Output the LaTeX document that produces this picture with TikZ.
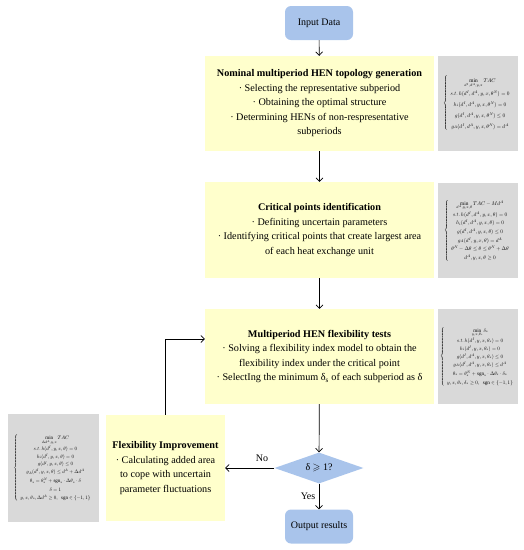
\documentclass[tikz,border=0pt]{standalone}
\usepackage{fontspec}
\usepackage{amssymb}
\usepackage{graphicx}
\setmainfont{Liberation Serif}
\usetikzlibrary{shapes.geometric,arrows.meta}
\definecolor{procyellow}{HTML}{FFFFCC}
\definecolor{termblue}{HTML}{A9C4EB}
\definecolor{modelgrey}{HTML}{D9D9D9}

\begin{document}
\begin{tikzpicture}[x=1pt,y=1pt]
      % Define styles for nodes
      \tikzstyle{terminal} = [rectangle, rounded corners=6pt, fill=termblue,
      minimum width=68pt, minimum height=34pt, font=\fontsize{10}{12}\selectfont]
      \tikzstyle{process} = [rectangle, fill=procyellow, minimum width=229pt,
      minimum height=95pt, align=center, font=\fontsize{10.2}{14.5}\selectfont]
      \tikzstyle{model} = [rectangle, fill=modelgrey, minimum width=80pt,
      minimum height=95pt, inner sep=0pt, font=\fontsize{10}{12}\selectfont]
      \tikzstyle{decision} = [diamond, aspect=2.9, fill=termblue, inner sep=0pt,
      minimum width=89pt, minimum height=31pt, font=\fontsize{10}{12}\selectfont]
      \tikzstyle{link} = [-{Straight Barb[length=3.5pt,width=7pt]}, line width=0.7pt]

      \useasboundingbox (0,0) rectangle (524,-550);

      % Start and end
      \node[terminal] (input) at (319,-23) {Input Data};
      \node[terminal] (output) at (319,-526.5) {Output results};

      % Steps of the procedure
      \node[process] (nominal) at (319.5,-103.5) {\textbf{Nominal multiperiod HEN topology generation}\\
        · Selecting the representative subperiod\\
        · Obtaining the optimal structure\\
        · Determining HENs of non-respresentative\\
        subperiods};
      \node[process, minimum height=96pt] (critical) at (319.5,-230) {\textbf{Critical points identification}\\
        · Definiting uncertain parameters\\
        · Identifying critical points that create largest area\\
        of each heat exchange unit};
      \node[process] (tests) at (319.5,-356.5) {\textbf{Multiperiod HEN flexibility tests}\\
        · Solving a flexibility index model to obtain the\\
        flexibility index under the critical point\\
        · SelectIng the minimum δ\textsubscript{s} of each subperiod as δ};
      \node[process, minimum width=119pt, minimum height=106pt] (improve) at (165.5,-468)
        {\textbf{Flexibility Improvement}\\
        · Calculating added area\\
        to cope with uncertain\\
        parameter fluctuations};
      \node[decision] (check) at (319,-468) {δ $\geqslant$ 1?};

      % Models beside the steps
      \node[model] (nominalmodel) at (478,-103) {\resizebox{70pt}{!}{%
        \renewcommand{\arraystretch}{1.7}%
        $\left\{\begin{array}{c}
        \min\limits_{d^I,d^A,y,x} TAC\\
        s.t.\, h(d^I,d^A,y,x,\theta^N)=0\\
        h_i(d^I,d^A,y,x,\theta^N)=0\\
        g(d^I,d^A,y,x,\theta^N)\le 0\\
        g_A(d^I,d^A,y,x,\theta^N)=d^A
        \end{array}\right.$}};
      \node[model] (criticalmodel) at (478,-230.5) {\resizebox{68pt}{!}{%
        \renewcommand{\arraystretch}{1.35}%
        $\left\{\begin{array}{c}
        \min\limits_{d^A,y,x,\theta} TAC-Md^A\\[2pt]
        s.t.\, h(d^I,d^A,y,x,\theta)=0\\
        h_i(d^I,d^A,y,x,\theta)=0\\
        g(d^I,d^A,y,x,\theta)\le 0\\
        g_A(d^I,y,x,\theta)=d^A\\
        \theta^N-\Delta\theta\le\theta\le\theta^N+\Delta\theta\\
        d^A,y,x,\theta\ge 0
        \end{array}\right.$}};
      \node[model] (testsmodel) at (478,-356.5) {\resizebox{76pt}{!}{%
        \renewcommand{\arraystretch}{1.3}%
        $\left\{\begin{array}{c}
        \min\limits_{y,x,\theta_s} \delta_s\\[4pt]
        s.t.\, h(d^I,y,x,\theta_s)=0\\
        h_i(d^I,y,x,\theta_s)=0\\
        g(d^I,d^A,y,x,\theta_s)\le 0\\
        g_A(d^I,d^A,y,x,\theta_s)\le d^A\\[2pt]
        \theta_s=\theta_s^N+\mathrm{sgn}_s\cdot\Delta\theta_s\cdot\delta_s\\[2pt]
        y,x,\theta_s,\delta_s\ge 0,\ \ \mathrm{sgn}\in\{-1,1\}
        \end{array}\right.$}};
      \node[model, minimum width=91pt, minimum height=108pt] (improvemodel) at (53.5,-468)
        {\resizebox{80pt}{!}{%
        \renewcommand{\arraystretch}{1.3}%
        $\left\{\begin{array}{c}
        \min\limits_{\Delta d^A,y,x} TAC\\[4pt]
        s.t.\, h(d^I,y,x,\theta)=0\\
        h_i(d^I,y,x,\theta)=0\\
        g(d^I,y,x,\theta)\le 0\\
        g_A(d^I,y,x,\theta)\le d^A+\Delta d^A\\[2pt]
        \theta_s=\theta_s^N+\mathrm{sgn}_s\cdot\Delta\theta_s\cdot\delta\\[2pt]
        \delta=1\\
        y,x,\theta_s,\Delta d^A\ge 0,\ \ \mathrm{sgn}\in\{-1,1\}
        \end{array}\right.$}};

      % Connections
      \draw[link] (input) -- (nominal);
      \draw[link] (nominal) -- (critical);
      \draw[link] (critical) -- (tests);
      \draw[link] (tests) -- (check);
      \draw[link] (check) -- node[left, font=\fontsize{10}{12}\selectfont] (yes) {Yes} (output);
      \draw[link] (check) -- node[above=3pt, pos=0.25, font=\fontsize{10}{12}\selectfont] (no) {No} (improve);
      \draw[link] (improve.north) |- ([yshift=17.5pt]tests.west);
    \end{tikzpicture}
\end{document}
